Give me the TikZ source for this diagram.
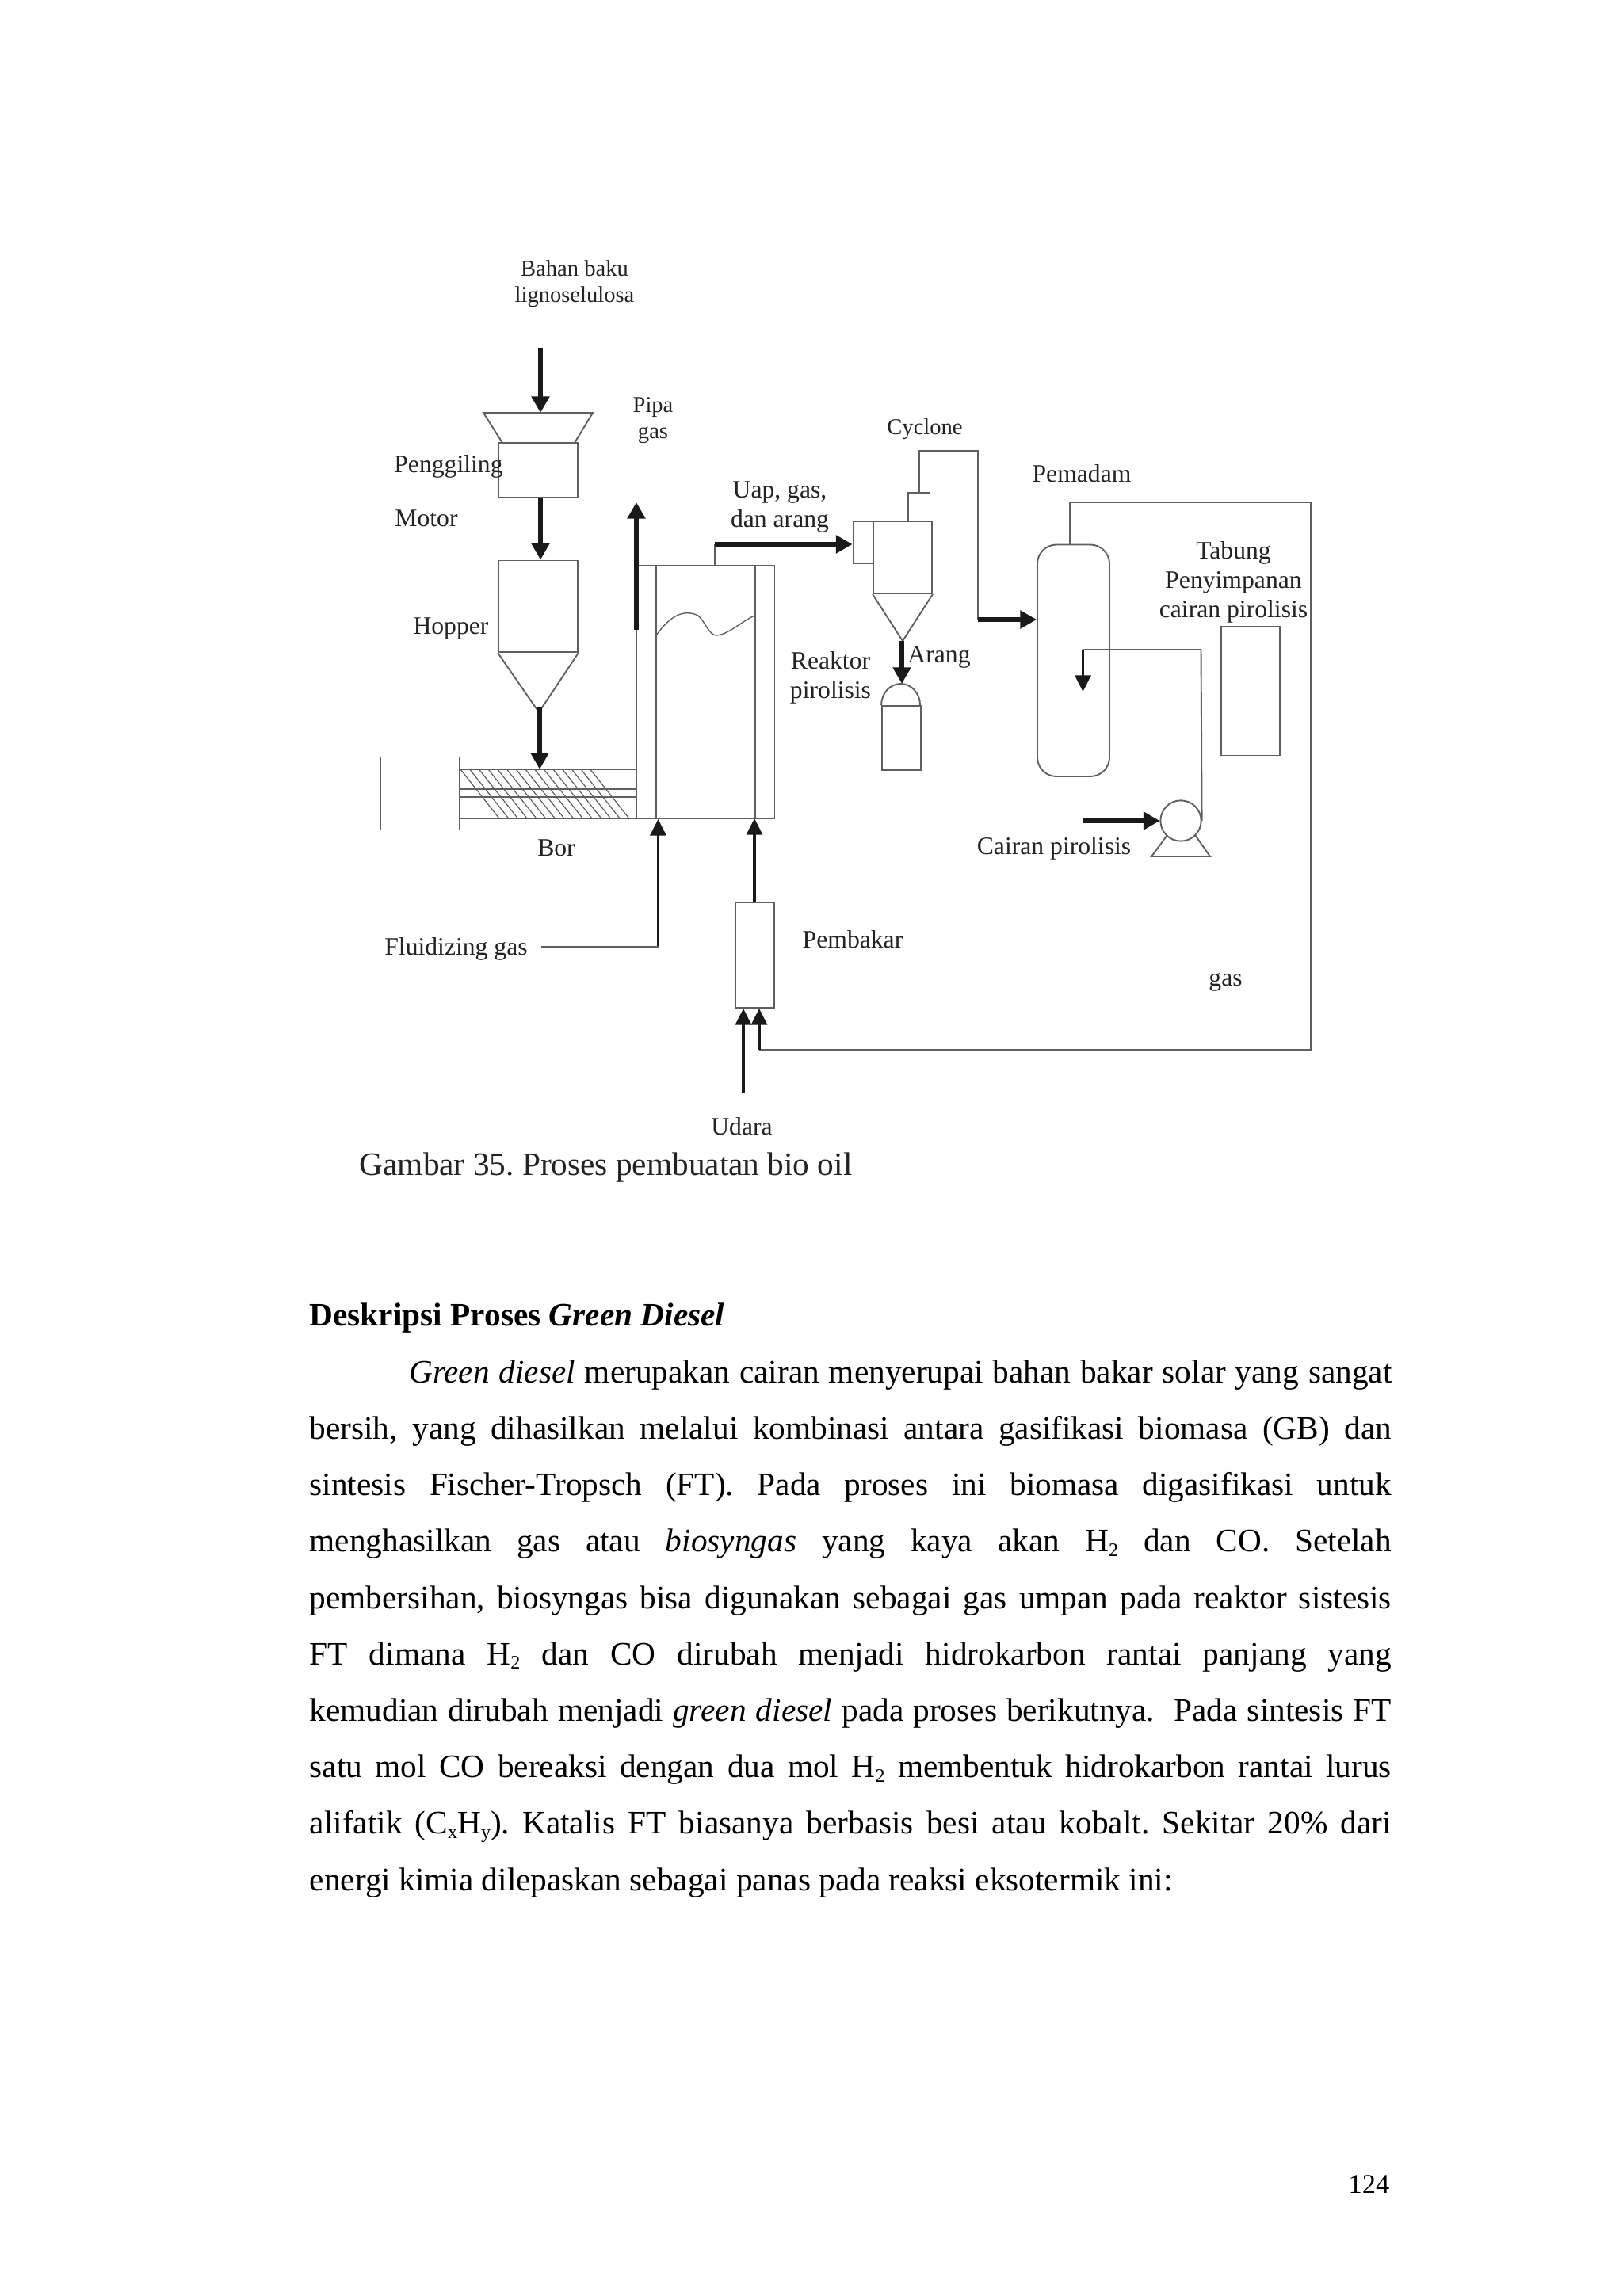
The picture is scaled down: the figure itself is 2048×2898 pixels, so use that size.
\documentclass[tikz,border=0pt]{standalone}
\usepackage{fontspec}
\setmainfont{Liberation Serif}
\usetikzlibrary{arrows.meta,fit}

\definecolor{inkline}{RGB}{95,95,95}
\definecolor{inkflow}{RGB}{25,25,25}
\definecolor{inktext}{RGB}{35,35,35}

\tikzset{
    unit/.style={draw=inkline,line width=0.55pt,inner sep=0pt,fill=none},
    pipe/.style={draw=inkline,line width=0.55pt},
    flow/.style={draw=inkflow,line width=1.5pt,-{Triangle[length=6pt,width=6.4pt]}},
    flowthin/.style={draw=inkflow,line width=1pt,-{Triangle[length=6pt,width=5.8pt]}},
    label/.style={inner sep=0pt,align=center,text=inktext,font=\fontsize{9.2}{10.8}\selectfont},
    smalllabel/.style={inner sep=0pt,align=center,text=inktext,font=\fontsize{8.3}{9.6}\selectfont},
    textline/.style={inner sep=0pt,anchor=base west,font=\fontsize{12}{14}\selectfont},
}
\newcommand{\fullline}[2][396.6pt]{\makebox[#1][s]{#2}}
\newcommand{\lowered}[1]{\raisebox{-1.6pt}{\fontsize{7}{7}\selectfont #1}}
\frenchspacing

\begin{document}
\begin{tikzpicture}[x=0.2905pt,y=-0.2905pt]
    \useasboundingbox (0,0) rectangle (2048,2898);

    % process units
    \node[unit,fit={(629,559) (729,627.5)}] (grinder) {};
    \node[unit,fit={(629,707.5) (729,823)}] (hopper) {};
    \node[unit,fit={(480,955.5) (580,1047.5)}] (motorbox) {};
    \node[unit,fit={(803,714) (977.5,1033)}] (reactor) {};
    \node[unit,fit={(1076.5,658) (1102,711)}] (inlet) {};
    \node[unit,fit={(1102,658) (1176,749)}] (cyclone) {};
    \node[unit,fit={(1146,622) (1173.5,658)}] (outlet) {};
    \node[unit,fit={(1113,891) (1162,972)}] (charpot) {};
    \node[unit,rounded corners=7pt,fit={(1309,687.5) (1400,980)}] (quench) {};
    \node[unit,fit={(1541,791) (1615,953.5)}] (tank) {};
    \node[unit,fit={(928,1139) (977,1272)}] (burner) {};
    \node[unit,circle,minimum size=14.9pt] (pump) at (1490,1036) {};

    % shapes that are not boxes
    \draw[pipe] (634,559) -- (610,521) -- (748,521) -- (725,559);
    \draw[pipe] (hopper.south west) -- (680,899) -- (hopper.south east);
    \draw[pipe] (cyclone.south west) -- (1139,809) -- (cyclone.south east);
    \draw[pipe] (charpot.north west) arc (180:360:24.5 and 27);
    \draw[pipe] (1473,1054) -- (1453,1081) -- (1527,1081) -- (1508,1054);
    \draw[pipe] (828,714) -- (828,1033);
    \draw[pipe] (953,714) -- (953,1033);
    \draw[pipe,line width=0.4pt] (828,802) .. controls (845,778) and (862,768) .. (881,777)
        .. controls (890,785) and (895,803) .. (905,802)
        .. controls (920,800) and (935,785) .. (952,777);

    % screw
    \draw[pipe] (motorbox.east |- 0,971) -- (803,971);
    \draw[pipe] (motorbox.east |- 0,996) -- (803,996);
    \draw[pipe] (motorbox.east |- 0,1006) -- (803,1006);
    \draw[pipe] (motorbox.east |- 0,1033) -- (803,1033);
    \foreach \x in {581,592.7,...,752} {
        \draw[pipe,line width=0.35pt] (\x,971) -- (\x+49,1033);
    }

    % free ends
    \coordinate (feedtop) at (682,439);
    \coordinate (ventbottom) at (803,795);
    \coordinate (venttop) at (803,634);
    \coordinate (vaporknee) at (902,687);
    \coordinate (cycloneknee) at (1234,782);
    \coordinate (bottomknee) at (1366.5,1036);
    \coordinate (recycleknee) at (1515.5,820);
    \coordinate (recycleend) at (1366.5,873);
    \coordinate (teeknee) at (1515.5,926.5);
    \coordinate (gasstart) at (1350,634);
    \coordinate (gascorner) at (1654,634);
    \coordinate (gasbottom) at (1654,1325);
    \coordinate (gasknee) at (958,1325);
    \coordinate (fluidstart) at (683,1195);
    \coordinate (fluidknee) at (830.5,1195);
    \coordinate (airstart) at (938,1380);

    % connectors
    \draw[flow] (feedtop) -- (feedtop |- 0,521);
    \draw[flow] (feedtop |- grinder.south) -- (feedtop |- hopper.north);
    \draw[flow] (681,892) -- (681,971);
    \draw[flow] (ventbottom) -- (venttop);
    \draw[pipe] (vaporknee) -- (vaporknee |- reactor.north);
    \draw[flow] (vaporknee) -- (vaporknee -| inlet.west);
    \draw[pipe] (outlet.north) |- (1234,569) -- (cycloneknee);
    \draw[flow] (cycloneknee) -- (cycloneknee -| quench.west);
    \draw[flow] (1138,809) -- (1138,863);
    \draw[pipe] (gasstart |- quench.north) -- (gasstart) -- (gascorner) -- (gasbottom) -- (gasknee);
    \draw[flowthin] (gasknee) -- (gasknee |- burner.south);
    \draw[flowthin] (airstart) -- (airstart |- burner.south);
    \draw[flowthin] (burner.north -| 952,0) -- (952,1033);
    \draw[flowthin] (fluidknee) -- (fluidknee |- reactor.south);
    \draw[pipe] (fluidstart) -- (fluidknee);
    \draw[pipe] (bottomknee |- quench.south) -- (bottomknee);
    \draw[flow] (bottomknee) -- (pump.west);
    \draw[pipe] (pump.east) -- (recycleknee) -- (recycleknee -| recycleend);
    \draw[flowthin] (recycleknee -| recycleend) -- (recycleend);
    \draw[pipe] (teeknee) -- (teeknee -| tank.west);

    % labels
    \node[smalllabel] (lblfeed) at (725,358) {Bahan baku\\lignoselulosa};
    \node[smalllabel] (lblvent) at (824,530.5) {Pipa\\gas};
    \node[smalllabel] (lblcyclone) at (1167,541.5) {Cyclone};
    \node[label] (lblgrinder) at (566,588.5) {Penggiling};
    \node[label] (lblmotor) at (538,654.5) {Motor};
    \node[label] (lblhopper) at (569,793.5) {Hopper};
    \node[label] (lblscrew) at (702,1070) {Bor};
    \node[label] (lblvapor) at (984,640) {Uap, gas,\\dan arang};
    \node[label] (lblquench) at (1365,598) {Pemadam};
    \node[label] (lbltank) at (1556.5,735) {Tabung\\Penyimpanan\\cairan pirolisis};
    \node[label] (lblreactor) at (1048,855) {Reaktor\\pirolisis};
    \node[label] (lblchar) at (1185,829.5) {Arang};
    \node[label] (lblliquid) at (1330,1070.5) {Cairan pirolisis};
    \node[label] (lblfluid) at (575.5,1197.5) {Fluidizing gas};
    \node[label] (lblburner) at (1076,1186) {Pembakar};
    \node[label] (lblgas) at (1546.5,1239.5) {gas};
    \node[label] (lblair) at (936,1421.5) {Udara};

    % caption and page text
    \node[textline,text=inktext] (caption) at (453,1483) {Gambar 35. Proses pembuatan bio oil};
    \node[textline] (heading) at (390,1673) {\textbf{Deskripsi Proses \textit{Green Diesel}}};
    \node[textline] (lineA) at (515.5,1745) {\fullline[360.3pt]{\textit{Green diesel} merupakan cairan menyerupai bahan bakar solar yang sangat}};
    \node[textline] (lineB) at (390,1816) {\fullline{bersih, yang dihasilkan melalui kombinasi antara gasifikasi biomasa (GB) dan}};
    \node[textline] (lineC) at (390,1887.5) {\fullline{sintesis Fischer-Tropsch (FT). Pada proses ini biomasa digasifikasi untuk}};
    \node[textline] (lineD) at (390,1958.5) {\fullline{menghasilkan gas atau \textit{biosyngas} yang kaya akan H\lowered{2} dan CO. Setelah}};
    \node[textline] (lineE) at (390,2030) {\fullline{pembersihan, biosyngas bisa digunakan sebagai gas umpan pada reaktor sistesis}};
    \node[textline] (lineF) at (390,2101) {\fullline{FT dimana H\lowered{2} dan CO dirubah menjadi hidrokarbon rantai panjang yang}};
    \node[textline] (lineG) at (390,2172) {\fullline{kemudian dirubah menjadi \textit{green diesel} pada proses berikutnya.\ \ Pada sintesis FT}};
    \node[textline] (lineH) at (390,2243.5) {\fullline{satu mol CO bereaksi dengan dua mol H\lowered{2} membentuk hidrokarbon rantai lurus}};
    \node[textline] (lineI) at (390,2314.5) {\fullline{alifatik (C\lowered{x}H\lowered{y}). Katalis FT biasanya berbasis besi atau kobalt. Sekitar 20\% dari}};
    \node[textline] (lineJ) at (390,2386) {energi kimia dilepaskan sebagai panas pada reaksi eksotermik ini:};
    \node[textline,anchor=base east,font=\fontsize{10}{12}\selectfont] (pagenum) at (1754,2768) {124};
\end{tikzpicture}
\end{document}
